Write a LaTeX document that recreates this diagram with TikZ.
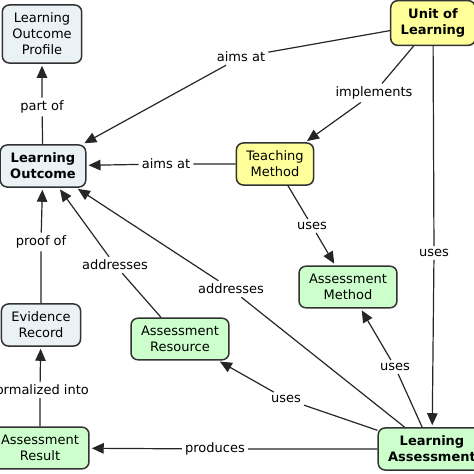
\documentclass[tikz,border=0pt]{standalone}
\usepackage{fontspec}
\setmainfont{DejaVu Sans}
\usetikzlibrary{arrows.meta}

\definecolor{bluegrey}{RGB}{234,242,245}
\definecolor{lightyellow}{RGB}{255,255,153}
\definecolor{lightgreen}{RGB}{204,255,204}
\definecolor{edgegrey}{RGB}{50,50,50}

\tikzset{
  concept/.style={draw=edgegrey, line width=1.5pt, rounded corners=7pt, align=center,
    inner xsep=10pt, inner ysep=8pt, font=\fontsize{13}{16}\selectfont},
  outcomebox/.style={concept, fill=bluegrey},
  unitbox/.style={concept, fill=lightyellow},
  assessbox/.style={concept, fill=lightgreen},
  linklabel/.style={inner sep=3pt, font=\fontsize{13}{16}\selectfont},
  link/.style={draw=black!85, line width=1.2pt, -{Triangle[length=12pt,width=10.5pt]}, shorten >=2pt}
}

\begin{document}
\begin{tikzpicture}[x=1pt, y=-1pt]
\useasboundingbox (0,0) rectangle (474,474);
\clip (0,0) rectangle (474,474);

% Define the nodes
\node (profile) [outcomebox] at (42,34) {Learning\\Outcome\\Profile};
\node (outcome) [outcomebox, font=\fontsize{13}{16}\selectfont\bfseries] at (43,166) {Learning\\Outcome};
\node (evidence) [outcomebox] at (41,325) {Evidence\\Record};
\node (unit) [unitbox, font=\fontsize{13}{16}\selectfont\bfseries] at (433,23) {Unit of\\Learning};
\node (teaching) [unitbox] at (275,164) {Teaching\\Method};
\node (method) [assessbox] at (348,287) {Assessment\\Method};
\node (resource) [assessbox] at (180,339) {Assessment\\Resource};
\node (result) [assessbox] at (40,448) {Assessment\\Result};
\node (assessment) [assessbox, font=\fontsize{13}{16}\selectfont\bfseries] at (432,449) {Learning\\Assessment};

% Define the link labels
\node (aimsunit) [linklabel] at (241,57) {aims at};
\node (implements) [linklabel] at (374,93) {implements};
\node (usesunit) [linklabel] at (434,253) {uses};
\node (aimsteach) [linklabel] at (166,164) {aims at};
\node (usesteach) [linklabel] at (312,226) {uses};
\node (partof) [linklabel] at (42,107) {part of};
\node (proofof) [linklabel] at (41,242) {proof of};
\node (formalized) [linklabel] at (40,390) {formalized into};
\node (addrres) [linklabel] at (115,265) {addresses};
\node (addrassess) [linklabel] at (231,289) {addresses};
\node (usesmethod) [linklabel] at (395,367) {uses};
\node (usesres) [linklabel] at (286,399) {uses};
\node (produces) [linklabel] at (215,449) {produces};

% Connect the nodes
\draw[link] (unit) -- (aimsunit) -- (outcome);
\draw[link] (unit) -- (implements) -- (teaching);
\draw[link] (unit) -- (usesunit) -- (assessment);
\draw[link] (teaching) -- (aimsteach) -- (outcome);
\draw[link] (teaching) -- (usesteach) -- (method);
\draw[link] (outcome) -- (partof) -- (profile);
\draw[link] (evidence) -- (proofof) -- (outcome);
\draw[link] (result) -- (formalized) -- (evidence);
\draw[link] (resource) -- (addrres) -- (outcome);
\draw[link] (assessment) -- (addrassess) -- (outcome);
\draw[link] (assessment) -- (usesmethod) -- (method);
\draw[link] (assessment) -- (usesres) -- (resource);
\draw[link] (assessment) -- (produces) -- (result);
\end{tikzpicture}
\end{document}
